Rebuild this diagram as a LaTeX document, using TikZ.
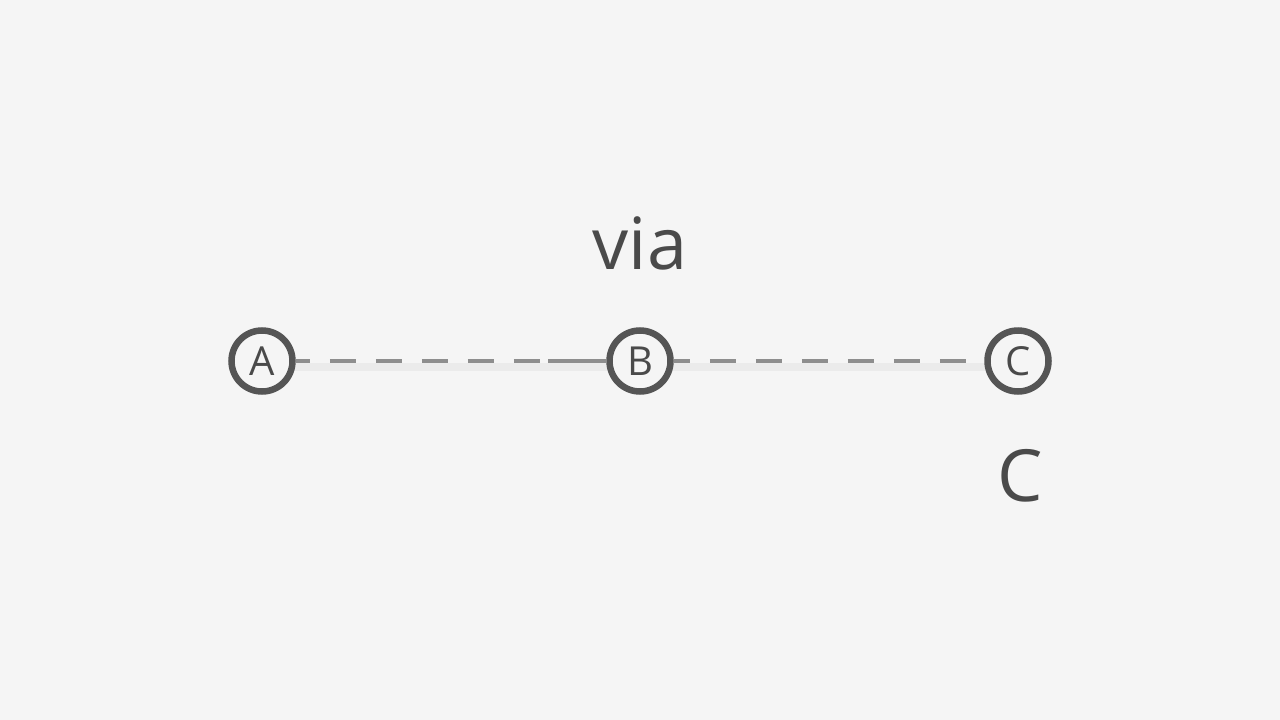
\documentclass[tikz,border=0pt]{standalone}
\usepackage{fontspec}
\setmainfont{Open Sans}
\definecolor{bg}{HTML}{F5F5F5}
\definecolor{ink}{HTML}{4A4A4A}
\definecolor{ring}{HTML}{555555}
\definecolor{dashc}{HTML}{8E8E8E}
\definecolor{shadowc}{HTML}{EBEBEB}
\begin{document}
\begin{tikzpicture}[x=1pt,y=-1pt,
  stop/.style={circle,draw=ring,line width=6.5pt,fill=bg,minimum size=61pt,inner sep=0pt,
    text=ink,font=\fontsize{40}{40}\selectfont},
  big/.style={text=ink,font=\fontsize{72}{72}\selectfont,inner sep=0pt},
  shade/.style={shadowc,line width=8pt},
  dashline/.style={dashc,line width=4pt,dash pattern=on 26pt off 20pt},
  solidline/.style={dashc,line width=4pt}]
\fill[bg] (0,0) rectangle (1280,720);
\useasboundingbox (0,0) rectangle (1280,720);
\coordinate (sA) at (262,367);
\coordinate (sC) at (1018,367);
\draw[shade] (sA) -- (sC);
\node[stop] (A) at (262,361) {A};
\node[stop] (B) at (640,361) {B};
\node[stop] (C) at (1018,361) {C};
\coordinate (m1) at (548,361);
\draw[dashline,dash phase=12pt] (A.east) -- (m1);
\draw[solidline] (m1) -- (B.west);
\draw[dashline,dash phase=10pt] (B.east) -- (C.west);
\node[big] (via) at (640,243) {via};
\node[big] (lab) at (1020,476) {C};
\end{tikzpicture}
\end{document}
